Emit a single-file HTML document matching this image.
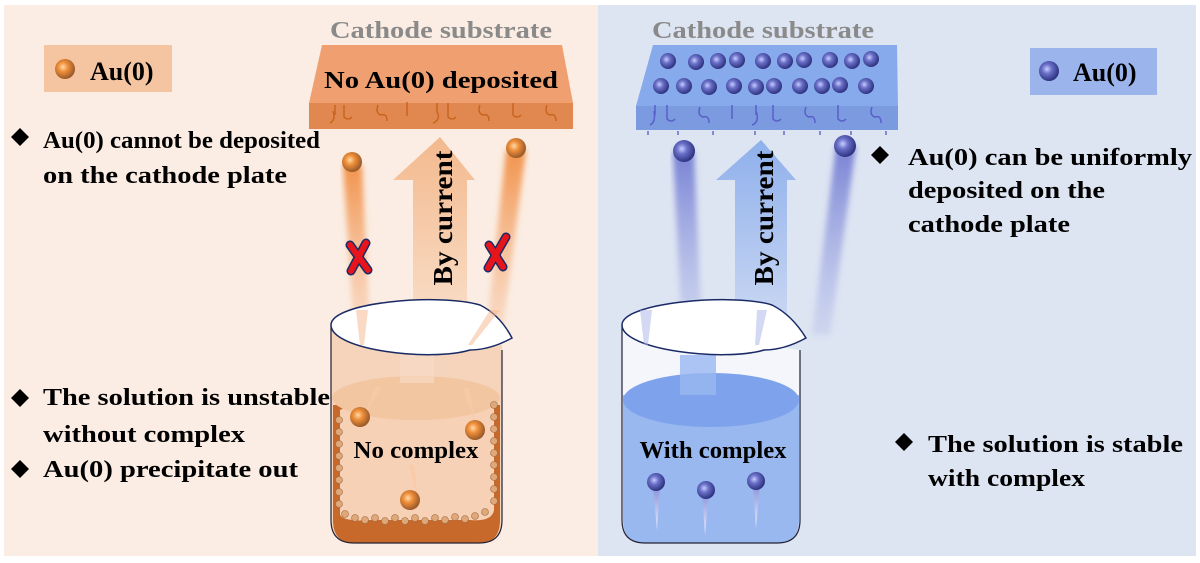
<!DOCTYPE html>
<html><head><meta charset="utf-8"><style>
html,body{margin:0;padding:0;background:#fff;}
svg{display:block;}
text{font-family:"Liberation Serif",serif;font-weight:bold;}
</style></head><body>
<svg width="1200" height="563" viewBox="0 0 1200 563" xmlns="http://www.w3.org/2000/svg">
<defs>
<radialGradient id="go" cx="0.4" cy="0.4" r="0.6"><stop offset="0" stop-color="#ffd9a8"/><stop offset="0.4" stop-color="#ef8f3a"/><stop offset="1" stop-color="#9a5a2a"/></radialGradient>
<radialGradient id="gb" cx="0.4" cy="0.4" r="0.6"><stop offset="0" stop-color="#c8ccff"/><stop offset="0.4" stop-color="#6a70c8"/><stop offset="1" stop-color="#2e3380"/></radialGradient>
<linearGradient id="beamO" x1="0" y1="0" x2="0" y2="1"><stop offset="0" stop-color="#f08a3c" stop-opacity="0.9"/><stop offset="1" stop-color="#f5b58a" stop-opacity="0.3"/></linearGradient>
<linearGradient id="beamB" x1="0" y1="0" x2="0" y2="1"><stop offset="0" stop-color="#6d77d0" stop-opacity="0.9"/><stop offset="1" stop-color="#aab4e8" stop-opacity="0.3"/></linearGradient>
<linearGradient id="arrO" x1="0" y1="0" x2="0" y2="1"><stop offset="0" stop-color="#f3b98e"/><stop offset="1" stop-color="#f9ddc6"/></linearGradient>
<linearGradient id="arrB" x1="0" y1="0" x2="0" y2="1"><stop offset="0" stop-color="#8fb0ec"/><stop offset="1" stop-color="#c8d6f2"/></linearGradient>
<linearGradient id="coneB" x1="0" y1="0" x2="0" y2="1"><stop offset="0" stop-color="#8a94dc"/><stop offset="1" stop-color="#e8ecfa"/></linearGradient>
<filter id="bl"><feGaussianBlur stdDeviation="3"/></filter>
</defs>
<rect x="4" y="5" width="594" height="551" fill="#fbede3"/>
<rect x="598" y="5" width="598" height="551" fill="#dde4f2"/>

<!-- LEFT legend -->
<rect x="44" y="45" width="128" height="47" fill="#f5c4a0"/>
<circle cx="65" cy="69" r="10" fill="url(#go)"/>
<text x="90" y="80" font-size="26">Au(0)</text>

<polygon points="20,128 29,137 20,146 11,137" fill="#000"/>
<text x="43" y="148" font-size="24" textLength="277" lengthAdjust="spacingAndGlyphs">Au(0) cannot be deposited</text>
<text x="43" y="183" font-size="24" textLength="244" lengthAdjust="spacingAndGlyphs">on the cathode plate</text>
<polygon points="20,389 29,398 20,407 11,398" fill="#000"/>
<text x="43" y="405" font-size="24" textLength="287" lengthAdjust="spacingAndGlyphs">The solution is unstable</text>
<text x="43" y="442" font-size="24" textLength="202" lengthAdjust="spacingAndGlyphs">without complex</text>
<polygon points="20,460 29,469 20,478 11,469" fill="#000"/>
<text x="43" y="477" font-size="24" textLength="255" lengthAdjust="spacingAndGlyphs">Au(0) precipitate out</text>

<!-- left cathode -->
<text x="441" y="38" font-size="24" fill="#8a8a8a" text-anchor="middle" textLength="222" lengthAdjust="spacingAndGlyphs">Cathode substrate</text>
<polygon points="322,45 562,45 573,103 309,103" fill="#f0a070"/>
<rect x="309" y="103" width="264" height="26" fill="#e08850"/>
<text x="441" y="88" font-size="24" text-anchor="middle" textLength="234" lengthAdjust="spacingAndGlyphs">No Au(0) deposited</text>
<g stroke="#c8651f" stroke-width="1.5" fill="none">
<path d="M330,123 q6,-3 3,-12 M335,105 v10"/><path d="M344,105 v12 q4,4 8,0"/><path d="M378,105 q-3,8 3,10 q6,-2 6,6"/><path d="M407,102 v14"/><path d="M433,123 q8,-3 4,-12 M437,103 v10"/><path d="M448,103 v14 q4,4 8,0"/><path d="M480,105 q-3,8 3,10 q6,-2 6,6"/><path d="M513,103 v12 q4,4 8,0"/><path d="M547,105 q-3,8 3,10 q6,-2 6,6"/>
</g>

<!-- left beams -->
<polygon points="343,165 362,165 370,335 354,335" fill="url(#beamO)" filter="url(#bl)"/>
<polygon points="506,150 526,150 502,335 486,335" fill="url(#beamO)" filter="url(#bl)"/>
<circle cx="352" cy="162" r="10" fill="url(#go)"/>
<circle cx="516" cy="148" r="10" fill="url(#go)"/>
<polygon points="440,137 475,180 467,180 467,318 413,318 413,180 393,180" fill="url(#arrO)"/>
<text transform="translate(452,218) rotate(-90)" font-size="27" text-anchor="middle" textLength="135" lengthAdjust="spacingAndGlyphs">By current</text>
<g stroke="#1a2a66" stroke-width="9" stroke-linecap="round"><path d="M350,245 L368,270 M366,243 L351,271"/><path d="M489,245 L503,267 M506,237 L488,268"/></g>
<g stroke="#e8141c" stroke-width="6" stroke-linecap="round"><path d="M350,245 L368,270 M366,243 L351,271"/><path d="M489,245 L503,267 M506,237 L488,268"/></g>

<!-- left beaker -->
<path d="M331,325 L331,520 Q331,543 354,543 L479,543 Q502,543 502,520 L502,345" fill="#f6d4bc"/>
<path d="M333,405 L333,520 Q333,543 354,543 L479,543 Q500,543 500,520 L500,405 Z" fill="#c8692c"/>
<path d="M340,410 L340,515 Q345,522 370,520 L470,520 Q492,522 494,510 L494,405 Q415,375 340,410 Z" fill="#f7d1b5"/>
<ellipse cx="416" cy="398" rx="84" ry="22" fill="#f3c6a2"/>
<g fill="#e0a878" stroke="#9a6a44" stroke-width="0.6">
<circle cx="339" cy="420" r="3.5"/><circle cx="339" cy="432" r="3.5"/><circle cx="339" cy="444" r="3.5"/><circle cx="339" cy="456" r="3.5"/><circle cx="339" cy="468" r="3.5"/><circle cx="339" cy="480" r="3.5"/><circle cx="339" cy="492" r="3.5"/><circle cx="339" cy="504" r="3.5"/><circle cx="345" cy="514" r="3.5"/>
<circle cx="494" cy="405" r="3.5"/><circle cx="494" cy="417" r="3.5"/><circle cx="494" cy="429" r="3.5"/><circle cx="494" cy="441" r="3.5"/><circle cx="494" cy="453" r="3.5"/><circle cx="494" cy="465" r="3.5"/><circle cx="494" cy="477" r="3.5"/><circle cx="494" cy="489" r="3.5"/><circle cx="494" cy="501" r="3.5"/>
<circle cx="355" cy="518" r="3.5"/><circle cx="365" cy="520" r="3.5"/><circle cx="375" cy="518" r="3.5"/><circle cx="385" cy="521" r="3.5"/><circle cx="395" cy="518" r="3.5"/><circle cx="405" cy="521" r="3.5"/><circle cx="415" cy="518" r="3.5"/><circle cx="425" cy="521" r="3.5"/><circle cx="435" cy="518" r="3.5"/><circle cx="445" cy="520" r="3.5"/><circle cx="455" cy="517" r="3.5"/><circle cx="465" cy="519" r="3.5"/><circle cx="475" cy="516" r="3.5"/><circle cx="485" cy="512" r="3.5"/>
</g>
<polygon points="376,386 382,386 362,420" fill="#f9c9a6" opacity="0.8"/>
<polygon points="463,388 469,388 476,425" fill="#f9c9a6" opacity="0.8"/>
<polygon points="409,465 414,465 418,500" fill="#f9c9a6" opacity="0.8"/>
<circle cx="360" cy="417" r="10" fill="url(#go)"/>
<circle cx="475" cy="430" r="10" fill="url(#go)"/>
<circle cx="410" cy="500" r="10" fill="url(#go)"/>
<text x="416" y="458" font-size="24" text-anchor="middle" textLength="125" lengthAdjust="spacingAndGlyphs">No complex</text>
<rect x="400" y="355" width="34" height="28" fill="#f9dcc8" opacity="0.6"/>
<path d="M331,325 L331,520 Q331,543 354,543 L479,543 Q502,543 502,520 L502,350" fill="none" stroke="#223" stroke-width="1.2"/>
<path d="M331,325 C331,302 440,293 480,305 Q500,315 512,338 Q490,350 470,350 C430,362 331,350 331,325 Z" fill="#fff" stroke="#1a2a66" stroke-width="1.5"/>
<polygon points="356,310 368,310 364,345 360,345" fill="#f5b58a" opacity="0.5"/>
<polygon points="490,310 500,310 472,345 468,345" fill="#f5b58a" opacity="0.5"/>

<!-- RIGHT legend -->
<rect x="1030" y="48" width="127" height="47" fill="#9bb4ec"/>
<circle cx="1049" cy="71" r="10" fill="url(#gb)"/>
<text x="1073" y="81" font-size="26">Au(0)</text>

<polygon points="880,146 889,155 880,164 871,155" fill="#000"/>
<text x="908" y="165" font-size="24" textLength="284" lengthAdjust="spacingAndGlyphs">Au(0) can be uniformly</text>
<text x="908" y="198" font-size="24" textLength="197" lengthAdjust="spacingAndGlyphs">deposited on the</text>
<text x="908" y="232" font-size="24" textLength="162" lengthAdjust="spacingAndGlyphs">cathode plate</text>
<polygon points="904,433 913,442 904,451 895,442" fill="#000"/>
<text x="928" y="452" font-size="24" textLength="255" lengthAdjust="spacingAndGlyphs">The solution is stable</text>
<text x="928" y="486" font-size="24" textLength="157" lengthAdjust="spacingAndGlyphs">with complex</text>

<!-- right cathode -->
<text x="763" y="38" font-size="24" fill="#8a8a8a" text-anchor="middle" textLength="222" lengthAdjust="spacingAndGlyphs">Cathode substrate</text>
<polygon points="653,45 897,45 898,106 636,106" fill="#86aaec"/>
<rect x="636" y="106" width="262" height="24" fill="#7b9ae0"/>
<g fill="url(#gb)">
<circle cx="668" cy="61" r="8"/><circle cx="696" cy="62" r="8"/><circle cx="718" cy="61" r="8"/><circle cx="737" cy="60" r="8"/><circle cx="763" cy="61" r="8"/><circle cx="785" cy="61" r="8"/><circle cx="804" cy="60" r="8"/><circle cx="830" cy="60" r="8"/><circle cx="852" cy="61" r="8"/><circle cx="871" cy="59" r="8"/>
<circle cx="661" cy="86" r="8"/><circle cx="684" cy="86" r="8"/><circle cx="709" cy="87" r="8"/><circle cx="734" cy="86" r="8"/><circle cx="756" cy="87" r="8"/><circle cx="774" cy="86" r="8"/><circle cx="800" cy="86" r="8"/><circle cx="822" cy="86" r="8"/><circle cx="840" cy="85" r="8"/><circle cx="866" cy="86" r="8"/>
</g>
<g stroke="#5a5fc8" stroke-width="1.5" fill="none">
<path d="M650,125 q6,-3 4,-14 M655,105 v10"/><path d="M667,105 v14 q4,4 8,0"/><path d="M700,107 q-3,8 3,10 q6,-2 6,6"/><path d="M732,105 v14"/><path d="M752,125 q8,-3 4,-14 M756,105 v10"/><path d="M773,105 v14 q4,4 8,0"/><path d="M806,107 q-3,8 3,10 q6,-2 6,6"/><path d="M838,105 v14 q4,4 8,0"/><path d="M872,107 q-3,8 3,10 q6,-2 6,6"/>
</g>
<g stroke="#4a50b8" stroke-width="1.2"><path d="M648,131v4M678,131v4M713,131v4M755,131v4M784,131v4M820,131v4M851,131v4M886,131v4"/></g>

<polygon points="673,152 694,152 702,335 682,335" fill="url(#beamB)" filter="url(#bl)"/>
<polygon points="836,146 856,146 830,335 812,335" fill="url(#beamB)" filter="url(#bl)"/>
<circle cx="684" cy="151" r="11" fill="url(#gb)"/>
<circle cx="845" cy="146" r="11" fill="url(#gb)"/>
<polygon points="761,140 796,180 787,180 787,318 735,318 735,180 716,180" fill="url(#arrB)"/>
<text transform="translate(773,218) rotate(-90)" font-size="27" text-anchor="middle" textLength="135" lengthAdjust="spacingAndGlyphs">By current</text>

<!-- right beaker -->
<path d="M622,325 L622,520 Q622,543 645,543 L777,543 Q800,543 800,520 L800,350" fill="#f4f6fc"/>
<path d="M623,395 L623,520 Q623,543 645,543 L777,543 Q799,543 799,520 L799,395 Z" fill="#9ab8f0"/>
<ellipse cx="711" cy="400" rx="88" ry="27" fill="#7ea3ec"/>
<rect x="680" y="355" width="36" height="40" fill="#9ab8f0" opacity="0.8"/>
<polygon points="653,487 660,487 657,530" fill="url(#coneB)"/>
<polygon points="702,492 709,492 705,535" fill="url(#coneB)"/>
<polygon points="753,485 760,485 756,528" fill="url(#coneB)"/>
<circle cx="656" cy="482" r="9" fill="url(#gb)"/>
<circle cx="706" cy="490" r="9" fill="url(#gb)"/>
<circle cx="756" cy="481" r="9" fill="url(#gb)"/>
<text x="713" y="458" font-size="24" text-anchor="middle" textLength="147" lengthAdjust="spacingAndGlyphs">With complex</text>
<path d="M622,325 L622,520 Q622,543 645,543 L777,543 Q800,543 800,520 L800,350" fill="none" stroke="#223" stroke-width="1.2"/>
<path d="M622,325 C622,302 735,293 772,305 Q792,315 806,338 Q784,350 764,350 C724,362 622,350 622,325 Z" fill="#fff" stroke="#1a2a66" stroke-width="1.5"/>
<polygon points="640,310 652,310 648,345 644,345" fill="#aab4e8" opacity="0.5"/>
<polygon points="757,310 767,310 759,345 755,345" fill="#aab4e8" opacity="0.5"/>
</svg>
</body></html>
